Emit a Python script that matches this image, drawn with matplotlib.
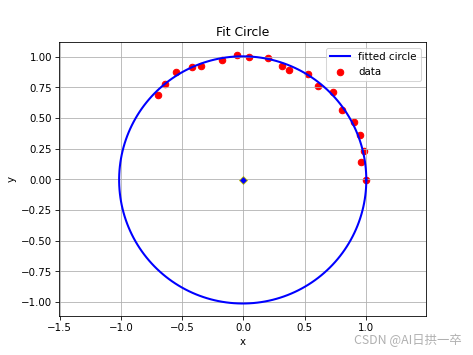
"""
plot.py

Fit Circle: noisy points on an arc and the circle fitted to them.
"""

import numpy as np
import matplotlib
matplotlib.use("Agg")
import matplotlib.pyplot as plt

# ──────────────────────────────────────────────
# DATA
# ──────────────────────────────────────────────

x_data = [-0.701, -0.639, -0.551, -0.416, -0.343, -0.179, -0.054, 0.044, 0.201, 0.316,
          0.370, 0.525, 0.607, 0.734, 0.801, 0.905, 0.952, 0.987, 0.962, 1.001]
y_data = [0.687, 0.779, 0.877, 0.913, 0.926, 0.975, 1.016, 0.997, 0.991, 0.929,
          0.896, 0.858, 0.760, 0.709, 0.566, 0.469, 0.365, 0.228, 0.146, -0.004]

center_x = -0.006
center_y = -0.004
radius = 1.008

# ──────────────────────────────────────────────
# PLOTTING
# ──────────────────────────────────────────────

fig = plt.figure(figsize=(6.4, 4.8), dpi=74)

theta = np.linspace(0, 2 * np.pi, 200)
plt.plot(center_x + radius * np.cos(theta), center_y + radius * np.sin(theta),
         'b-', linewidth=2, label='fitted circle')
plt.scatter(x_data, y_data, c='r', s=40, label='data')
plt.plot(center_x, center_y, 'bD', markeredgecolor='y', markeredgewidth=0.8, markersize=5.5)

plt.axis('equal')
plt.xlabel('x')
plt.ylabel('y')
plt.title('Fit Circle')
plt.legend(loc='upper right')
plt.grid(True)

fig.text(0.975, 0.022, 'CSDN @AI日拱一卒', ha='right', va='bottom', fontsize=12,
         color='#b0b0b0', family=['Noto Sans CJK SC', 'DejaVu Sans'])

plt.savefig('out.png', dpi=74)
